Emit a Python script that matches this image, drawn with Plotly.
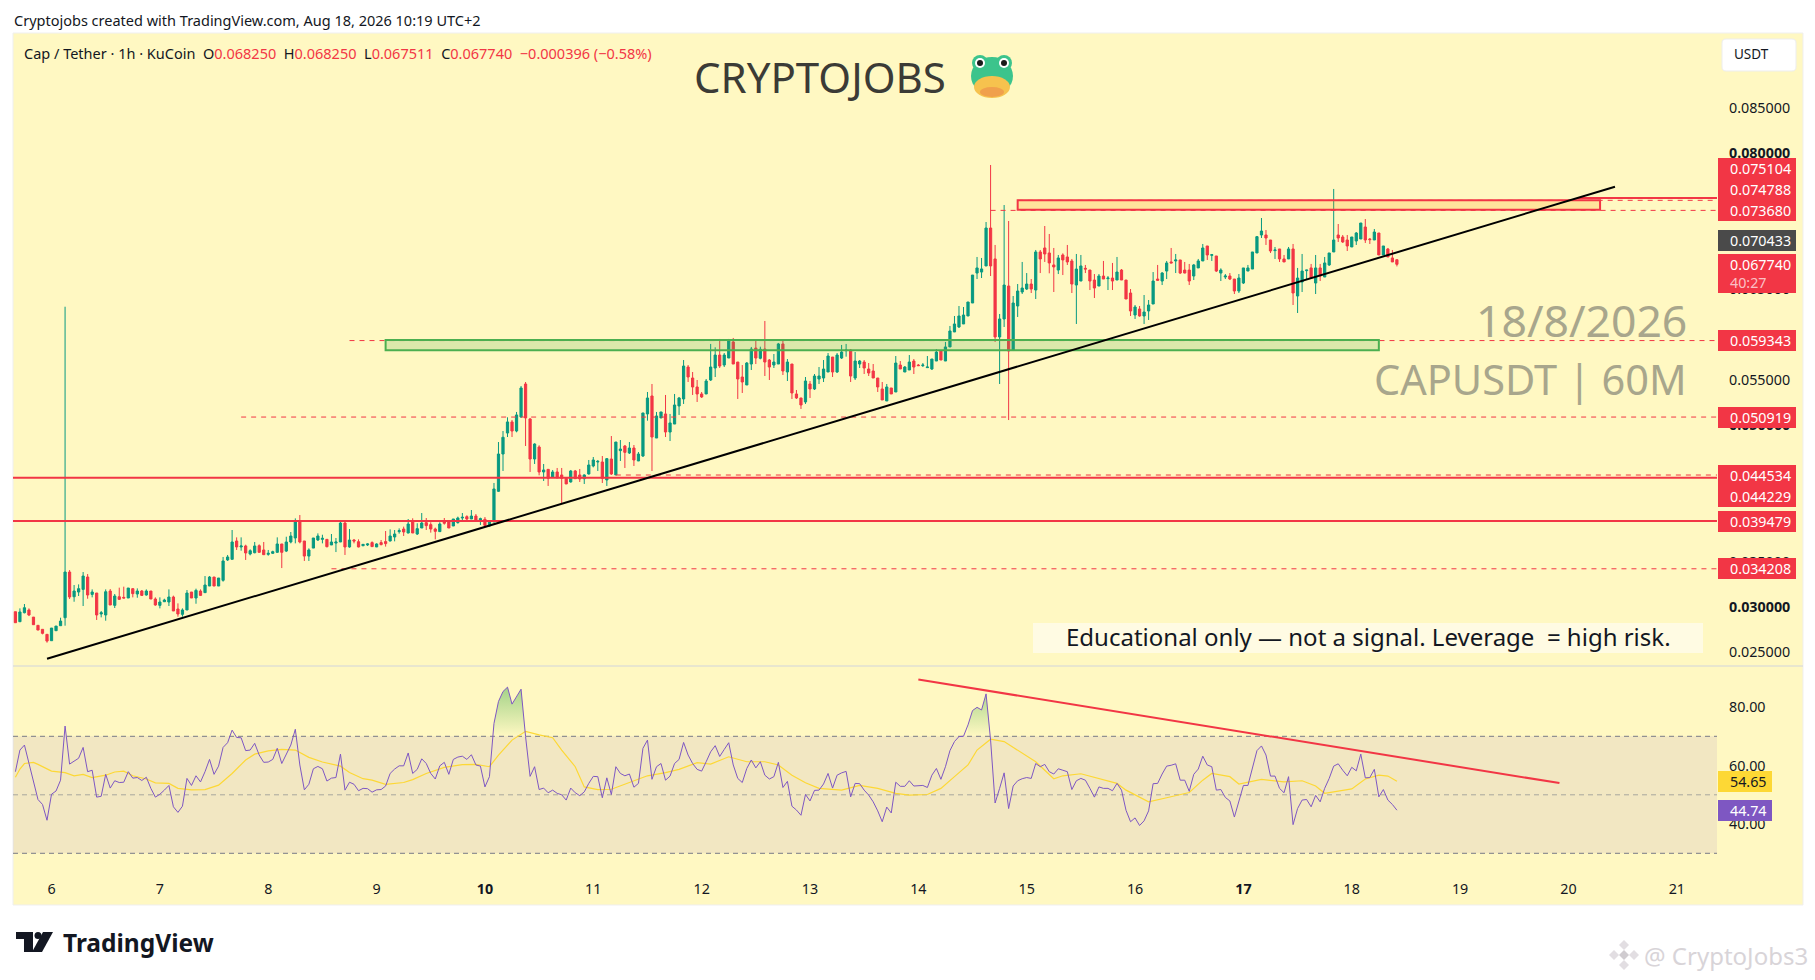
import numpy as np
import pandas as pd
import plotly.graph_objects as go
from plotly.subplots import make_subplots

W, H = 1815, 980
RED = "#F23645"
GREEN = "#089981"
BG = "#FFF8C2"
FONT = "Noto Sans"

# hourly candles, in units of 0.00001 USDT
PRICE_UNIT = 1e-5
opens = [
    2948,2838,2937,2967,2889,2798,2754,2699,2629,2739, 2794,2882,3385,3113,3165,3194,3330,3139,3154,2923,
    2912,3176,3018,3113,3106,3099,3202,3143,3176,3132, 3176,3088,3018,3058,3055,3110,2978,2919,2967,3165,
    3099,3176,3158,3231,3330,3231,3294,3518,3525,3727, 3661,3672,3584,3598,3675,3628,3580,3591,3602,3694,
    3616,3716,3760,3951,3727,3561,3649,3738,3745,3745, 3683,3704,3716,3925,3661,3738,3719,3675,3683,3709,
    3661,3709,3720,3727,3771,3830,3859,3815,3951,3804, 3870,3929,3907,3859,3830,3951,3951,3892,3929,3980,
    3995,3969,4002,3958,3966,3892,3936,4274,4685,4916, 5038,4938,5093,5456,5071,4630,4762,4487,4516,4428,
    4487,4454,4417,4377,4498,4454,4413,4465,4553,4597, 4597,4399,4630,4454,4722,4773,4696,4751,4608,4663,
    5126,5324,4861,5082,5126,4927,5015,5214,5291,5643, 5522,5423,5346,5346,5500,5632,5775,5665,5742,5919,
    5698,5533,5445,5676,5852,5739,5841,5720,5665,5676, 5897,5588,5676,5346,5302,5258,5456,5401,5511,5522,
    5588,5753,5588,5742,5823,5830,5522,5676,5698,5621, 5599,5522,5401,5269,5412,5368,5665,5588,5610,5709,
    5665,5658,5636,5621,5709,5819,5709,5864,6029,6084, 6117,6205,6348,6678,6689,6756,7174,6833,5974,6172,
    6535,5830,6315,6469,6502,6557,6491,6910,6954,6899, 6767,6711,6877,6855,6811,6546,6590,6730,6711,6601,
    6535,6645,6616,6623,6601,6711,6601,6458,6216,6282, 6205,6260,6337,6612,6590,6700,6800,6811,6822,6711,
    6711,6645,6734,6811,6976,6873,6866,6678,6634,6645, 6612,6480,6568,6700,6722,6899,7097,7097,7042,6925,
    6943,6833,6833,6943,6425,6579,6704,6734,6568,6734, 6634,6767,6910,7097,7075,7042,6965,7031,7053,7185,
    7053,7042,7119,6877,6943,6844,6825,
]
highs = [
    2948,2985,3033,2985,2889,2798,2754,2699,2768,2790, 2882,6307,3407,3242,3249,3385,3363,3194,3154,2956,
    3194,3198,3143,3213,3224,3209,3205,3205,3187,3194, 3176,3106,3106,3091,3194,3125,3040,2985,3187,3165,
    3202,3194,3341,3341,3330,3319,3551,3573,3848,3767, 3767,3686,3635,3716,3690,3716,3628,3620,3767,3694,
    3774,3826,3976,4013,3727,3646,3760,3811,3796,3745, 3804,3760,3936,3936,3859,3749,3745,3690,3701,3723,
    3701,3738,3837,3855,3848,3866,3885,3969,3977,3922, 4035,3980,3933,3874,3933,3980,3951,3969,3995,4035,
    4010,4068,4024,3984,3991,3951,4366,4817,4938,5089, 5060,5148,5434,5478,5082,4803,4781,4575,4516,4509,
    4531,4531,4417,4509,4509,4520,4461,4619,4652,4619, 4663,4641,4883,4817,4839,4784,4817,4784,4707,5137,
    5368,5456,5148,5148,5335,5126,5346,5313,5720,5665, 5588,5500,5368,5511,5897,5860,5952,5797,5952,5963,
    5698,5665,5698,5864,5941,5867,6150,5731,5786,5908, 5930,5731,5676,5390,5302,5533,5489,5566,5643,5720,
    5797,5753,5797,5886,5897,5841,5808,5720,5720,5687, 5676,5522,5478,5456,5412,5764,5709,5654,5775,5731,
    5676,5687,5764,5731,5841,5819,5919,6095,6205,6315, 6304,6359,6656,6855,6844,7240,7868,6987,6227,7427,
    7251,6425,6557,6800,6678,6612,6932,6932,7196,7108, 6954,6877,6895,6987,6833,6888,6877,6767,6711,6667,
    6667,6811,6645,6789,6855,6722,6601,6502,6326,6315, 6436,6381,6689,6767,6689,6811,6954,6888,6822,6800,
    6778,6778,6833,6998,6976,6888,6866,6730,6667,6678, 6612,6667,6734,6767,6910,7086,7284,7152,7042,6965,
    6943,6877,6965,6998,6734,6888,6711,6778,6877,6778, 6855,6899,7604,7218,7097,7097,7075,7130,7229,7273,
    7064,7163,7119,6976,6954,6932,6825,
]
lows = [
    2827,2838,2930,2900,2805,2746,2699,2607,2629,2739, 2794,2794,3088,3058,3121,3011,3091,3106,2857,2886,
    2849,3022,2989,3077,3095,3099,3106,3102,3121,3125, 3088,3014,2985,3055,3011,2956,2893,2893,2967,3099,
    3036,3121,3158,3231,3231,3231,3279,3507,3525,3628, 3620,3518,3569,3591,3598,3573,3565,3584,3598,3429,
    3605,3701,3701,3701,3507,3507,3649,3727,3701,3657, 3683,3605,3716,3573,3653,3701,3657,3670,3672,3661,
    3661,3679,3665,3723,3723,3808,3782,3811,3815,3793, 3870,3848,3819,3745,3830,3907,3870,3892,3918,3951,
    3958,3969,3958,3903,3885,3885,3936,4267,4498,4872, 4872,4924,5082,4773,4487,4575,4450,4388,4333,4421,
    4421,4142,4355,4370,4413,4377,4355,4458,4538,4498, 4366,4333,4454,4454,4608,4531,4685,4553,4608,4652,
    5052,4498,4861,5082,4872,4828,5015,5115,5236,5478, 5335,5258,5302,5346,5489,5533,5632,5643,5742,5676,
    5291,5357,5445,5610,5676,5728,5544,5500,5632,5676, 5555,5489,5291,5291,5181,5236,5302,5390,5456,5478,
    5588,5533,5577,5731,5757,5478,5500,5632,5566,5544, 5522,5368,5280,5269,5346,5368,5621,5588,5610,5566,
    5658,5643,5636,5610,5709,5720,5709,5864,6029,6073, 6117,6205,6348,6612,6623,6756,6645,5919,5456,6084,
    5059,5819,6194,6447,6491,6458,6392,6678,6800,6675, 6469,6667,6656,6767,6458,6117,6590,6678,6491,6403,
    6535,6612,6491,6491,6601,6601,6392,6205,6172,6197, 6117,6161,6337,6590,6546,6612,6789,6678,6667,6675,
    6546,6601,6734,6811,6822,6811,6689,6590,6612,6601, 6447,6458,6557,6700,6722,6899,7064,6987,6899,6833,
    6800,6800,6833,6326,6238,6469,6601,6623,6447,6590, 6634,6756,6910,7020,7009,6921,6965,6987,7053,7009,
    6998,7042,6877,6877,6855,6800,6751,
]
closes = [
    2827,2945,2992,2912,2805,2746,2710,2625,2768,2790, 2845,3385,3110,3176,3202,3341,3132,3165,2912,2937,
    3168,3022,3121,3084,3099,3209,3147,3176,3128,3176, 3088,3022,3055,3077,3110,2956,2923,2967,3154,3099,
    3183,3128,3242,3330,3231,3319,3507,3551,3716,3661, 3672,3595,3620,3672,3602,3576,3591,3609,3694,3602,
    3716,3782,3947,3716,3561,3628,3760,3782,3756,3664, 3716,3716,3925,3661,3738,3727,3661,3690,3694,3665,
    3694,3687,3698,3782,3804,3841,3826,3914,3815,3863, 3925,3896,3859,3833,3914,3922,3870,3969,3980,3988,
    3969,4002,3958,3973,3899,3951,4300,4685,4869,5038, 4938,5115,5412,5082,4630,4795,4487,4509,4417,4487,
    4421,4417,4355,4498,4413,4410,4454,4564,4619,4604, 4417,4634,4465,4817,4740,4703,4751,4619,4685,5137,
    5302,4872,5104,5148,4927,5027,5225,5302,5654,5533, 5423,5346,5313,5489,5643,5775,5654,5775,5941,5676,
    5511,5478,5687,5841,5742,5838,5698,5643,5698,5897, 5599,5698,5357,5302,5225,5489,5401,5544,5544,5621,
    5764,5588,5775,5808,5830,5544,5709,5709,5632,5577, 5522,5423,5280,5423,5346,5687,5621,5643,5698,5643,
    5658,5665,5643,5731,5808,5720,5864,6040,6117,6205, 6216,6359,6656,6734,6723,7174,6756,5974,6172,6546,
    5819,6348,6480,6513,6557,6502,6910,6833,6888,6789, 6745,6844,6822,6800,6557,6722,6756,6722,6590,6513,
    6645,6612,6623,6590,6689,6601,6392,6260,6304,6205, 6249,6326,6590,6598,6678,6789,6789,6822,6678,6678,
    6590,6767,6811,6954,6877,6880,6700,6711,6645,6612, 6480,6623,6734,6734,6910,7079,7141,7064,6921,6932,
    6833,6800,6943,6458,6623,6700,6711,6623,6734,6645, 6789,6899,7042,7064,7020,6976,7075,7119,7229,7042,
    7046,7130,6877,6976,6855,6800,6774,
]
rsi = [
    57.9,65.3,67.0,60.7,53.9,48.4,46.7,41.3,50.2,51.3, 55.0,73.5,60.5,61.6,62.5,66.2,57.9,58.4,49.2,49.5,
    57.0,52.3,54.8,54.2,54.3,57.9,55.7,55.9,54.9,56.0, 52.2,49.2,50.2,51.6,53.2,45.9,44.0,46.1,55.6,53.2,
    56.5,54.4,57.9,62.1,57.0,59.8,66.2,67.8,72.1,69.6, 69.5,65.1,65.3,67.6,63.6,61.1,61.2,62.1,65.9,60.7,
    63.6,67.0,72.4,60.2,51.7,53.6,58.9,59.7,58.9,54.7, 55.7,55.9,63.9,51.6,54.3,53.6,51.4,52.2,52.1,50.9,
    51.7,51.8,53.0,57.3,58.8,59.9,59.9,64.3,57.3,58.7, 62.3,60.7,57.3,55.4,59.9,61.1,57.0,62.1,62.9,63.2,
    62.1,63.7,60.2,59.8,52.7,56.2,74.4,81.9,85.3,86.8, 81.0,83.4,86.1,69.9,56.3,59.6,51.8,52.3,50.7,51.6,
    50.5,50.0,48.2,52.3,50.7,49.7,51.0,53.9,56.3,56.2, 49.0,55.8,50.1,59.6,57.3,56.5,57.1,52.6,53.9,65.9,
    68.7,55.3,59.6,60.7,55.0,56.4,60.7,62.1,67.9,63.6, 60.7,58.7,
    58.1,61.3,64.7,66.8,63.1,65.5,67.8,60.2,55.6,54.2, 59.0,61.9,59.2,61.3,56.7,55.4,56.2,61.1,52.5,54.6,
    46.1,44.8,43.0,50.1,47.9,51.5,51.6,53.7,57.3,52.3, 56.7,57.5,58.0,49.3,53.9,53.8,51.6,49.9,47.6,44.5,
    40.8,45.8,43.8,54.3,52.9,52.9,54.8,53.0,53.1,53.2, 52.5,56.7,59.0,55.3,59.6,65.1,68.2,69.9,70.0,73.9,
    78.8,79.9,79.0,84.5,68.7,47.2,52.2,57.5,45.3,53.0, 54.8,55.5,55.9,55.6,60.7,59.6,60.4,57.9,57.1,58.9,
    58.4,57.9,51.8,54.8,55.6,55.0,52.2,49.2,52.7,52.2, 52.2,51.4,53.9,51.6,44.7,40.8,42.1,39.5,41.1,44.5,
    53.8,53.9,57.1,59.8,60.1,60.6,55.0,55.0,51.2,57.0, 58.8,63.2,60.2,59.6,51.6,51.8,49.1,47.9,42.4,48.2,
    53.2,53.2,59.0,65.1,66.7,63.6,56.4,56.4,52.2,50.7, 56.2,39.8,45.3,48.2,48.4,45.9,49.8,47.6,52.2,55.6,
    59.8,60.6,58.4,56.5,59.4,58.2,63.9,55.8,55.9,58.7, 49.3,51.8,48.2,46.7,44.74,
]
# yellow smoothing line, read at the candles where it bends
ma_index = [
    0,1,2,4,5,7,8,11,13,15,17,20,22,24,26,29,31,34,36,39,42,45,48,51,53,56,59,62,65,68,72,74,77,79,82,86,88,91,95,99,
    102,105,107,110,113,116,119,121,124,126,129,132,136,140,144,147,151,154,158,162,166,169,172,175,178,183,187,191,
    195,198,202,205,208,211,213,216,219,222,226,230,232,236,240,244,246,251,255,260,263,265,269,271,276,281,285,288,
    290,296,299,302,304,306,
]
ma_values = [
    56.0,58.8,60.7,61.1,60.4,59.0,58.1,57.6,56.5,57.0,55.9,56.7,57.8,58.1,56.5,55.4,54.1,53.9,52.2,51.7,51.8,53.3,57.3,
    61.9,63.9,65.0,65.5,65.3,62.8,61.2,59.8,57.6,55.5,55.0,53.6,54.2,55.2,57.3,59.4,60.3,60.4,59.6,63.6,68.7,71.7,70.5,
    69.5,65.3,59.6,52.7,51.8,51.9,54.1,56.5,57.6,58.7,61.0,60.5,63.0,61.3,61.3,60.2,56.7,54.1,52.2,51.6,53.2,52.2,50.5,
    49.9,50.1,52.2,56.2,60.2,65.3,69.0,68.2,65.3,61.3,55.5,56.5,57.2,55.6,53.9,51.6,47.6,49.0,50.8,55.0,57.3,56.2,53.7,
    55.3,54.4,54.8,53.0,50.5,52.0,55.4,56.7,56.4,54.65,
]

price_ticks = [0.025,0.03,0.035,0.04,0.045,0.05,0.055,0.06,0.065,0.07,0.075,0.08,0.085]
price_ticktext = ["0.025000","<b>0.030000</b>","0.035000","0.040000","0.045000","<b>0.050000</b>","0.055000",
                  "0.060000","0.065000","0.070000","0.075000","<b>0.080000</b>","0.085000"]
rsi_ticks = [40, 60, 80]
day_ticks = pd.date_range("2026-08-06", "2026-08-21", freq="D")
day_text = ["<b>%d</b>" % d.day if d.day in (10, 17) else str(d.day) for d in day_ticks]

# drawn levels: price, start of the ray, dashed or solid
level_prices = [0.075040, 0.074788, 0.073680, 0.059343, 0.050919, 0.044534, 0.044229, 0.039479, 0.034208]
level_starts = ["2026-08-20 02:00", "2026-08-14 22:00", "2026-08-14 16:00", "2026-08-08 18:00", "2026-08-07 18:00",
                "2026-08-11 05:00", "2026-08-05 15:28", "2026-08-05 15:28", "2026-08-08 14:00"]
level_dash = ["solid", "dash", "dash", "dash", "dash", "dash", "solid", "solid", "dash"]

trend_x = ["2026-08-05 23:00", "2026-08-20 10:18"]
trend_y = [0.0243, 0.07629]
rsi_trend_x = ["2026-08-14 00:00", "2026-08-19 22:00"]
rsi_trend_y = [89.4, 54.0]

X_RANGE = ["2026-08-05 15:28", "2026-08-21 08:54"]

times = pd.date_range("2026-08-05 16:00", periods=len(closes), freq="h")


def px(x):
    return x / W


def py(y):
    return 1 - y / H


fig = make_subplots(rows=2, cols=1, shared_xaxes=True, vertical_spacing=0)

fig.add_trace(go.Candlestick(
    x=times,
    open=np.array(opens) * PRICE_UNIT, high=np.array(highs) * PRICE_UNIT,
    low=np.array(lows) * PRICE_UNIT, close=np.array(closes) * PRICE_UNIT,
    increasing=dict(line=dict(color=GREEN, width=1), fillcolor=GREEN),
    decreasing=dict(line=dict(color=RED, width=1), fillcolor=RED),
    whiskerwidth=0, showlegend=False), row=1, col=1)

# green fade where the RSI sits above 70
rsi_arr = np.array(rsi)
for a, b in [(106, 113), (211, 216)]:
    fill_x = list(times[a:b + 1]) + [times[b], times[a]]
    fill_y = list(np.maximum(rsi_arr[a:b + 1], 70)) + [70, 70]
    fig.add_trace(go.Scatter(
        x=fill_x, y=fill_y, mode="none", fill="toself", showlegend=False,
        fillgradient=dict(type="vertical", start=88, stop=70,
                          colorscale=[[0, "rgba(76,175,80,0.55)"], [1, "rgba(76,175,80,0)"]])),
        row=2, col=1)

fig.add_trace(go.Scatter(x=times[ma_index], y=ma_values, mode="lines", line=dict(color="#FDD835", width=1.2),
                         showlegend=False), row=2, col=1)
fig.add_trace(go.Scatter(x=times, y=rsi, mode="lines", line=dict(color="#7E57C2", width=1),
                         showlegend=False), row=2, col=1)

shapes = []


def box(x0, y0, x1, y1, fill, line=None, layer="above"):
    shapes.append(dict(type="rect", xref="paper", yref="paper", x0=px(x0), x1=px(x1), y0=py(y0), y1=py(y1),
                       fillcolor=fill, line=dict(color=line or fill, width=1 if line else 0), layer=layer))


def dot(cx, cy, rx, ry, fill):
    shapes.append(dict(type="circle", xref="paper", yref="paper", x0=px(cx - rx), x1=px(cx + rx),
                       y0=py(cy + ry), y1=py(cy - ry), fillcolor=fill, line=dict(width=0)))


def poly(points, fill):
    path = "M " + " L ".join("%.5f,%.5f" % (px(a), py(b)) for a, b in points) + " Z"
    shapes.append(dict(type="path", xref="paper", yref="paper", path=path, fillcolor=fill, line=dict(width=0)))


box(13, 33, 1803, 905, BG, "#EFEFEF", layer="below")

# rsi band and its guides
shapes.append(dict(type="rect", xref="x2 domain", yref="y2", x0=0, x1=1, y0=30, y1=70,
                   fillcolor="rgba(126,87,194,0.1)", line=dict(width=0), layer="below"))
for val, col in [(70, "#787B86"), (50, "rgba(120,123,134,0.6)"), (30, "#787B86")]:
    shapes.append(dict(type="line", xref="x2 domain", yref="y2", x0=0, x1=1, y0=val, y1=val,
                       line=dict(color=col, width=1, dash="5px,4px"), layer="below"))

# pane separator
shapes.append(dict(type="line", xref="paper", yref="paper", x0=px(13), x1=px(1803), y0=py(666), y1=py(666),
                   line=dict(color="#D1D4DC", width=1)))

for p, start, dash in zip(level_prices, level_starts, level_dash):
    shapes.append(dict(type="line", xref="x", yref="y", x0=start, x1=X_RANGE[1], y0=p, y1=p,
                       line=dict(color=RED, width=2 if dash == "solid" else 1,
                                 dash="solid" if dash == "solid" else "5px,5px")))

shapes.append(dict(type="rect", xref="x", yref="y", x0="2026-08-09 02:00", x1="2026-08-18 06:00",
                   y0=0.05827, y1=0.0594, fillcolor="rgba(76,175,80,0.2)", line=dict(color="#4CAF50", width=2)))
shapes.append(dict(type="rect", xref="x", yref="y", x0="2026-08-14 22:00", x1="2026-08-20 07:00",
                   y0=0.07376, y1=0.07479, fillcolor="rgba(255,152,0,0.2)", line=dict(color=RED, width=2)))
shapes.append(dict(type="line", xref="x", yref="y", x0=trend_x[0], x1=trend_x[1], y0=trend_y[0], y1=trend_y[1],
                   line=dict(color="#000000", width=2)))
shapes.append(dict(type="line", xref="x2", yref="y2", x0=rsi_trend_x[0], x1=rsi_trend_x[1],
                   y0=rsi_trend_y[0], y1=rsi_trend_y[1], line=dict(color=RED, width=2)))

# usdt button
shapes.append(dict(type="path", xref="paper", yref="paper", fillcolor="#FFFFFF",
                   line=dict(color="#EDEDED", width=1),
                   path="M %f,%f L %f,%f Q %f,%f %f,%f L %f,%f Q %f,%f %f,%f L %f,%f Q %f,%f %f,%f L %f,%f Q %f,%f %f,%f Z" % (
                       px(1726), py(39), px(1792), py(39), px(1796), py(39), px(1796), py(43), px(1796), py(67),
                       px(1796), py(71), px(1792), py(71), px(1726), py(71), px(1722), py(71), px(1722), py(67),
                       px(1722), py(43), px(1722), py(39), px(1726), py(39))))

# note box
box(1033, 623, 1703, 653, "#FFFBE3")

# price labels on the axis
box(1718, 158, 1796, 221, RED)
box(1718, 230, 1796, 251, "#4A4A4A")
box(1718, 254, 1796, 293, RED)
box(1718, 330, 1796, 351, RED)
box(1718, 407, 1796, 428, RED)
box(1718, 465, 1796, 507, RED)
box(1718, 511, 1796, 532, RED)
box(1718, 558, 1796, 579, RED)
box(1718, 771, 1772, 792, "#FDD835")
box(1718, 800, 1772, 821, "#7E57C2")

# frog badge
dot(992, 76, 21, 19, "#3CC48C")
dot(992, 87, 18, 11, "#F6C24E")
dot(992, 92, 12, 5, "#F0A04C")
dot(980, 63, 8, 8, "#3CC48C")
dot(1004, 63, 8, 8, "#3CC48C")
dot(980, 63, 5, 5, "#FFFFFF")
dot(1004, 63, 5, 5, "#FFFFFF")
dot(980, 63, 3, 3, "#1A1A1A")
dot(1004, 63, 3, 3, "#1A1A1A")

# tradingview mark
poly([(16, 932), (33, 932), (33, 952), (24, 952), (24, 939), (16, 939)], "#131722")
dot(38, 935.5, 3.5, 3.5, "#131722")
poly([(43, 932), (53, 932), (42, 952), (32, 952)], "#131722")

# watermark mark
for cx, cy in [(1624, 945), (1624, 965), (1614, 955), (1634, 955)]:
    poly([(cx - 5, cy), (cx, cy - 5), (cx + 5, cy), (cx, cy + 5)], "#E2DEE2")
poly([(1619, 955), (1624, 950), (1629, 955), (1624, 960)], "#D0CCD0")

annotations = []


def label(x, y, text, size=14, color="#131722", anchor="left"):
    annotations.append(dict(xref="paper", yref="paper", x=px(x), y=py(y), text=text, showarrow=False,
                            xanchor=anchor, yanchor="middle", font=dict(family=FONT, size=size, color=color),
                            borderpad=0, align="left"))


red_span = '<span style="color:%s">%%s</span>' % RED
label(13, 20, "Cryptojobs created with TradingView.com, Aug 18, 2026 10:19 UTC+2", 14.5)
label(23, 53, "Cap / Tether · 1h · KuCoin  O" + red_span % "0.068250" + "  H" + red_span % "0.068250" + "  L"
      + red_span % "0.067511" + "  C" + red_span % "0.067740" + "  " + red_span % "−0.000396 (−0.58%)", 14.5)
label(693, 77, "CRYPTOJOBS", 42, "#3B3B36")
label(1688, 319, "18/8/2026", 44.5, "#A8A68C", "right")
label(1688, 379, "CAPUSDT | 60M", 41.5, "#A8A68C", "right")
label(1065, 636, "Educational only — not a signal. Leverage  = high risk.", 24, "#131722")
label(1733, 54, "USDT", 13.5)

for text, y, col in [("0.075104", 168.7, "#FFFFFF"), ("0.074788", 189.7, "#FFFFFF"), ("0.073680", 210.7, "#FFFFFF"),
                     ("0.070433", 240.7, "#FFFFFF"), ("0.067740", 264.7, "#FFFFFF"), ("40:27", 282.7, "rgba(255,255,255,0.7)"),
                     ("0.059343", 340.3, "#FFFFFF"), ("0.050919", 417.3, "#FFFFFF"), ("0.044534", 475.7, "#FFFFFF"),
                     ("0.044229", 496.3, "#FFFFFF"), ("0.039479", 521.3, "#FFFFFF"), ("0.034208", 568.3, "#FFFFFF"),
                     ("54.65", 781.7, "#131722"), ("44.74", 810.7, "#FFFFFF")]:
    label(1729, y, text, 14.3, col)

label(62, 942, "<b>TradingView</b>", 24.5, "#131722")
label(1643, 955, "@ CryptoJobs3", 24, "#D8D4D8")

fig.update_layout(
    width=W, height=H, margin=dict(l=0, r=0, t=0, b=0),
    paper_bgcolor="#FFFFFF", plot_bgcolor="rgba(0,0,0,0)",
    font=dict(family=FONT, size=14.3, color="#131722"),
    showlegend=False, boxgap=0.3, shapes=shapes, annotations=annotations,
    hovermode=False,
)
fig.update_xaxes(range=X_RANGE, domain=[px(13), px(1717)], showgrid=False, zeroline=False, showline=False,
                 tickmode="array", tickvals=day_ticks, ticktext=day_text, ticks="", rangeslider_visible=False)
fig.update_xaxes(showticklabels=False, row=1, col=1)
fig.update_xaxes(showticklabels=True, ticklabelstandoff=6, row=2, col=1)
fig.update_yaxes(range=[0.023502, 0.093216], domain=[py(666), py(33)], side="right", showgrid=False, zeroline=False,
                 tickmode="array", tickvals=price_ticks, ticktext=price_ticktext, ticks="", ticklabelstandoff=11,
                 row=1, col=1)
fig.update_yaxes(range=[23.27, 94.03], domain=[py(873), py(666)], side="right", showgrid=False, zeroline=False,
                 tickmode="array", tickvals=rsi_ticks, ticktext=["%.2f" % t for t in rsi_ticks], ticks="",
                 ticklabelstandoff=11, row=2, col=1)

fig.write_html("out.html", config={"displayModeBar": False},
               post_script="document.body.style.margin='0';document.documentElement.style.overflow='hidden';")
